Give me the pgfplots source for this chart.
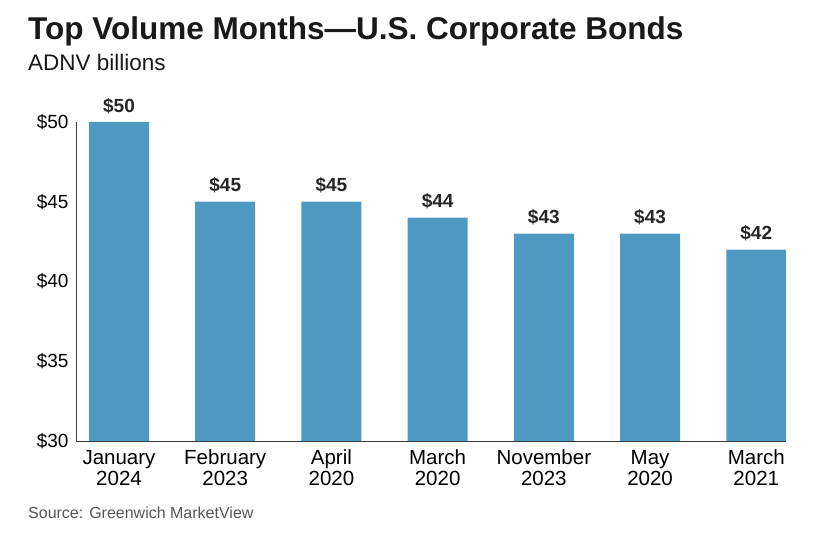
\documentclass[border=0pt]{standalone}
\usepackage{pgfplots}
\pgfplotsset{compat=1.18}
\usepackage{fontspec}
\setmainfont{Liberation Sans}
\definecolor{barblue}{HTML}{4F9AC3}
\definecolor{axisgray}{HTML}{3A3A3A}
\definecolor{srcgray}{HTML}{555555}

\begin{document}
\begin{tikzpicture}[x=1pt,y=1pt]
\path[use as bounding box] (0,0) rectangle (819,534);
\begin{axis}[
    at={(76pt,93pt)}, anchor=south west,
    scale only axis,
    width=710pt, height=319pt,
    ybar, bar width=60pt,
    xmin=-0.405, xmax=6.28,
    ymin=30, ymax=50,
    axis x line=bottom, axis y line=left,
    axis line style={-, axisgray, line width=0.8pt},
    major tick length=0pt,
    ytick={30,35,40,45,50},
    yticklabels={\$30,\$35,\$40,\$45,\$50},
    xtick={0,1,2,3,4,5,6},
    xticklabels={January\\2024, February\\2023, April\\2020, March\\2020, November\\2023, May\\2020, March\\2021},
    xticklabel style={align=center, anchor=base, font=\fontsize{20.5}{21}\selectfont, text=black, yshift=-45pt},
    yticklabel style={font=\fontsize{19}{22}\selectfont, text=black, xshift=-4pt},
    clip mode=individual,
    /pgf/number format/assume math mode=true,
    nodes near coords={\$\pgfmathprintnumber{\pgfplotspointmeta}},
    every node near coord/.append style={font=\bfseries\fontsize{19}{22}\selectfont, text=black!85, yshift=5pt},
]
\addplot[fill=barblue, draw=none] coordinates {
    (0,50) (1,45) (2,45) (3,44) (4,43) (5,43) (6,42)
};
\end{axis}
\node[anchor=base west, inner sep=0pt, font=\bfseries\fontsize{31.5}{36}\selectfont, text=black!90] at (28,494) {Top Volume Months---U.S. Corporate Bonds};
\node[anchor=base west, inner sep=0pt, font=\fontsize{22.5}{26}\selectfont, text=black!90] at (28,463) {ADNV billions};
\node[anchor=base west, inner sep=0pt, font=\fontsize{16}{19}\selectfont, text=srcgray] at (28,15) {Source: Greenwich MarketView};
\end{tikzpicture}
\end{document}
